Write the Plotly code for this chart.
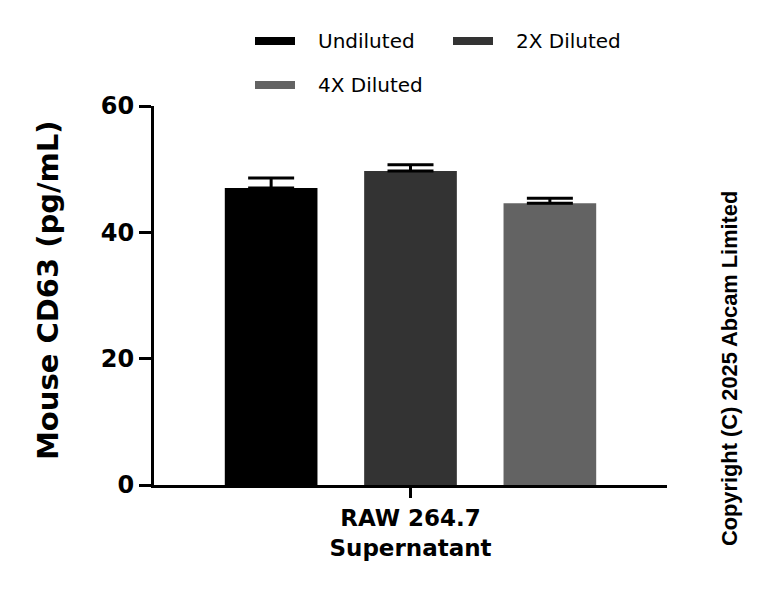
import plotly.graph_objects as go

categories = ["RAW 264.7<br>Supernatant"]
series_names = ["Undiluted", "2X Diluted", "4X Diluted"]
means = [47.0, 49.7, 44.6]
errors = [1.6, 1.0, 0.8]
colors = ["#000000", "#333333", "#636363"]
y_ticks = [0, 20, 40, 60]

W, H = 768, 595
L, R, T, B = 154, 101, 106, 110
pw, ph = W - L - R, H - T - B

def px2x(px):
    return (px - L) / pw

def px2y(py):
    return (H - B - py) / ph

fig = go.Figure()
for name, m, e, c in zip(series_names, means, errors, colors):
    fig.add_trace(go.Bar(
        x=categories, y=[m], name=name,
        marker=dict(color=c, line=dict(width=0)),
        error_y=dict(type="data", symmetric=False, array=[e], arrayminus=[0],
                     color="#000000", thickness=3, width=23),
        showlegend=False,
    ))

tick_font = dict(family="DejaVu Sans", size=24, color="#000000", weight="bold")

fig.update_layout(
    width=W, height=H,
    margin=dict(l=L, r=R, t=T, b=B, pad=0),
    paper_bgcolor="white", plot_bgcolor="white",
    barmode="group", bargap=0.185, bargroupgap=0.335,
    xaxis=dict(showline=True, linewidth=3, linecolor="#000000", ticks="outside",
               ticklen=10, tickwidth=3, tickcolor="#000000", showgrid=False,
               tickfont=dict(family="DejaVu Sans", size=23, color="#000000", weight="bold"),
               zeroline=False),
    yaxis=dict(range=[0, 60], tickvals=y_ticks, showline=True, linewidth=3,
               linecolor="#000000", ticks="outside", ticklen=12, tickwidth=3,
               tickcolor="#000000", showgrid=False, zeroline=False,
               tickfont=tick_font),
)

annotations = [
    dict(text="Mouse CD63 (pg/mL)", x=px2x(48), y=px2y(290), xref="paper", yref="paper",
         textangle=-90, showarrow=False, xanchor="center", yanchor="middle",
         font=dict(family="DejaVu Sans", size=29, color="#000000", weight="bold")),
    dict(text="Copyright (C) 2025 Abcam Limited", x=px2x(729), y=px2y(369),
         xref="paper", yref="paper", textangle=-90, showarrow=False,
         xanchor="center", yanchor="middle",
         font=dict(family="Liberation Sans", size=21.8, color="#000000", weight="bold")),
]

# manual legend (wide swatches as in the reference)
legend_pos = [(255, 41), (453, 41), (255, 85)]
shapes = []
for (sx, sy), name, c in zip(legend_pos, series_names, colors):
    shapes.append(dict(type="rect", xref="paper", yref="paper",
                       x0=px2x(sx), x1=px2x(sx + 40), y0=px2y(sy + 4), y1=px2y(sy - 4),
                       fillcolor=c, line=dict(width=0)))
    annotations.append(dict(text=name, x=px2x(sx + 61), y=px2y(sy), xref="paper", yref="paper",
                            showarrow=False, xanchor="left", yanchor="middle",
                            font=dict(family="DejaVu Sans", size=20, color="#000000")))

fig.update_layout(annotations=annotations, shapes=shapes)
fig.write_html("out.html")
